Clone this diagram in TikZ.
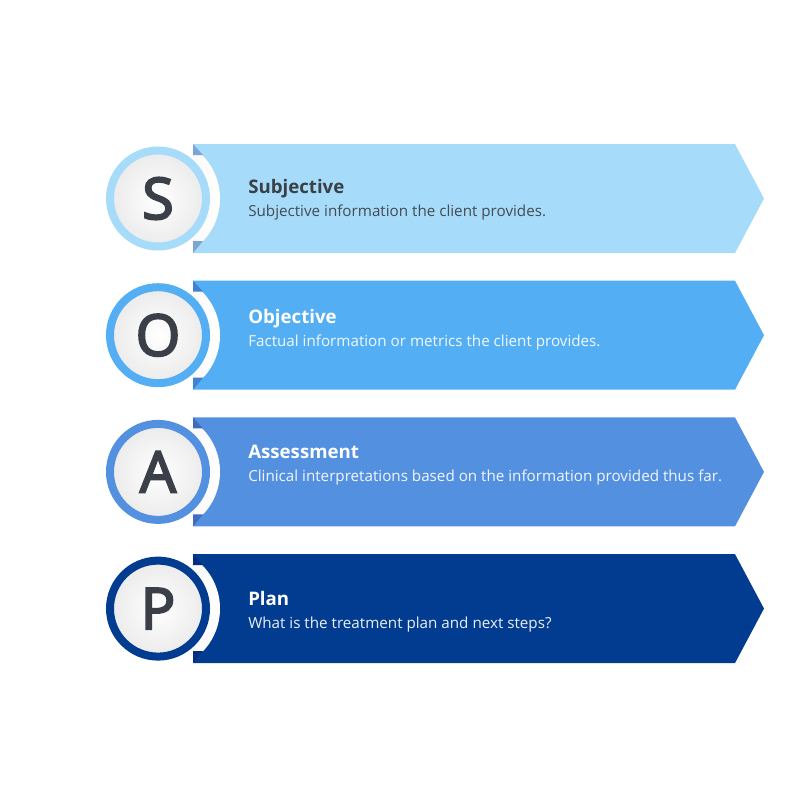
\documentclass[tikz,border=0pt]{standalone}
\usepackage{fontspec}
\setmainfont{Open Sans}
\newfontfamily\letterfont[FakeBold=3.5]{Open Sans}

\definecolor{soapS}{HTML}{A6DCFA}
\definecolor{soapO}{HTML}{53AEF3}
\definecolor{soapA}{HTML}{5490E0}
\definecolor{soapP}{HTML}{023C90}
\definecolor{inkgray}{HTML}{3B3F47}

\tikzset{
	ringnode/.style = {circle, shade, inner color = white, outer color = gray!16,
		line width = 6pt, minimum size = 72pt, inner sep = 0pt, text = inkgray,
		font = \fontsize{43}{43}\letterfont},
	titletext/.style = {anchor = base west, inner sep = 0pt,
		font = \fontsize{14}{16}\selectfont\bfseries},
	desctext/.style = {anchor = base west, inner sep = 0pt,
		font = \fontsize{11.4}{14}\selectfont},
	band/.style = {left color = gray!20, right color = white},
}

\begin{document}
\begin{tikzpicture}[x = 0.75pt, y = -0.75pt]
	
	\fill[white] (0, 0) rectangle (800, 800);
	\useasboundingbox (0, 0) rectangle (800, 800);
	
	\foreach \ltr/\ttl/\txt/\clr/\tclr/\ty [count = \i] in {
		S/Subjective/Subjective information the client provides./soapS/inkgray/193,
		O/Objective/Factual information or metrics the client provides./soapO/white/323,
		A/Assessment/Clinical interpretations based on the information provided thus far./soapA/white/458,
		P/Plan/What is the treatment plan and next steps?/soapP/white/605}
	{
		\pgfmathsetmacro{\cy}{198.5 + 136.7*(\i - 1)}
		
		\coordinate (c\i) at (158, \cy);
		\fill[\clr] (193, \cy - 54.5) -- (735, \cy - 54.5) -- (764, \cy)
			-- (735, \cy + 54.5) -- (193, \cy + 54.5) -- cycle;
		
		\begin{scope}
			\clip (193, \cy - 43.5) rectangle (240, \cy + 42.5);
			\shade[band] (c\i) circle (62);
		\end{scope}
		
		\fill[\clr!88!blue!85!black] (193, \cy - 54.5) -- (203, \cy - 43.5) -- (193, \cy - 43.5) -- cycle;
		\fill[\clr!88!blue!85!black] (193, \cy + 42.5) -- (203, \cy + 42.5) -- (193, \cy + 54.5) -- cycle;
		
		\node[ringnode, draw = \clr] (ring\i) at (c\i) {\ltr};
		
		\node[titletext, text = \tclr] (title\i) at (248, \ty) {\ttl};
		\node[desctext, text = \tclr!92!\clr] (desc\i) at (248, \ty + 23) {\txt};
	}
	
\end{tikzpicture}
\end{document}
